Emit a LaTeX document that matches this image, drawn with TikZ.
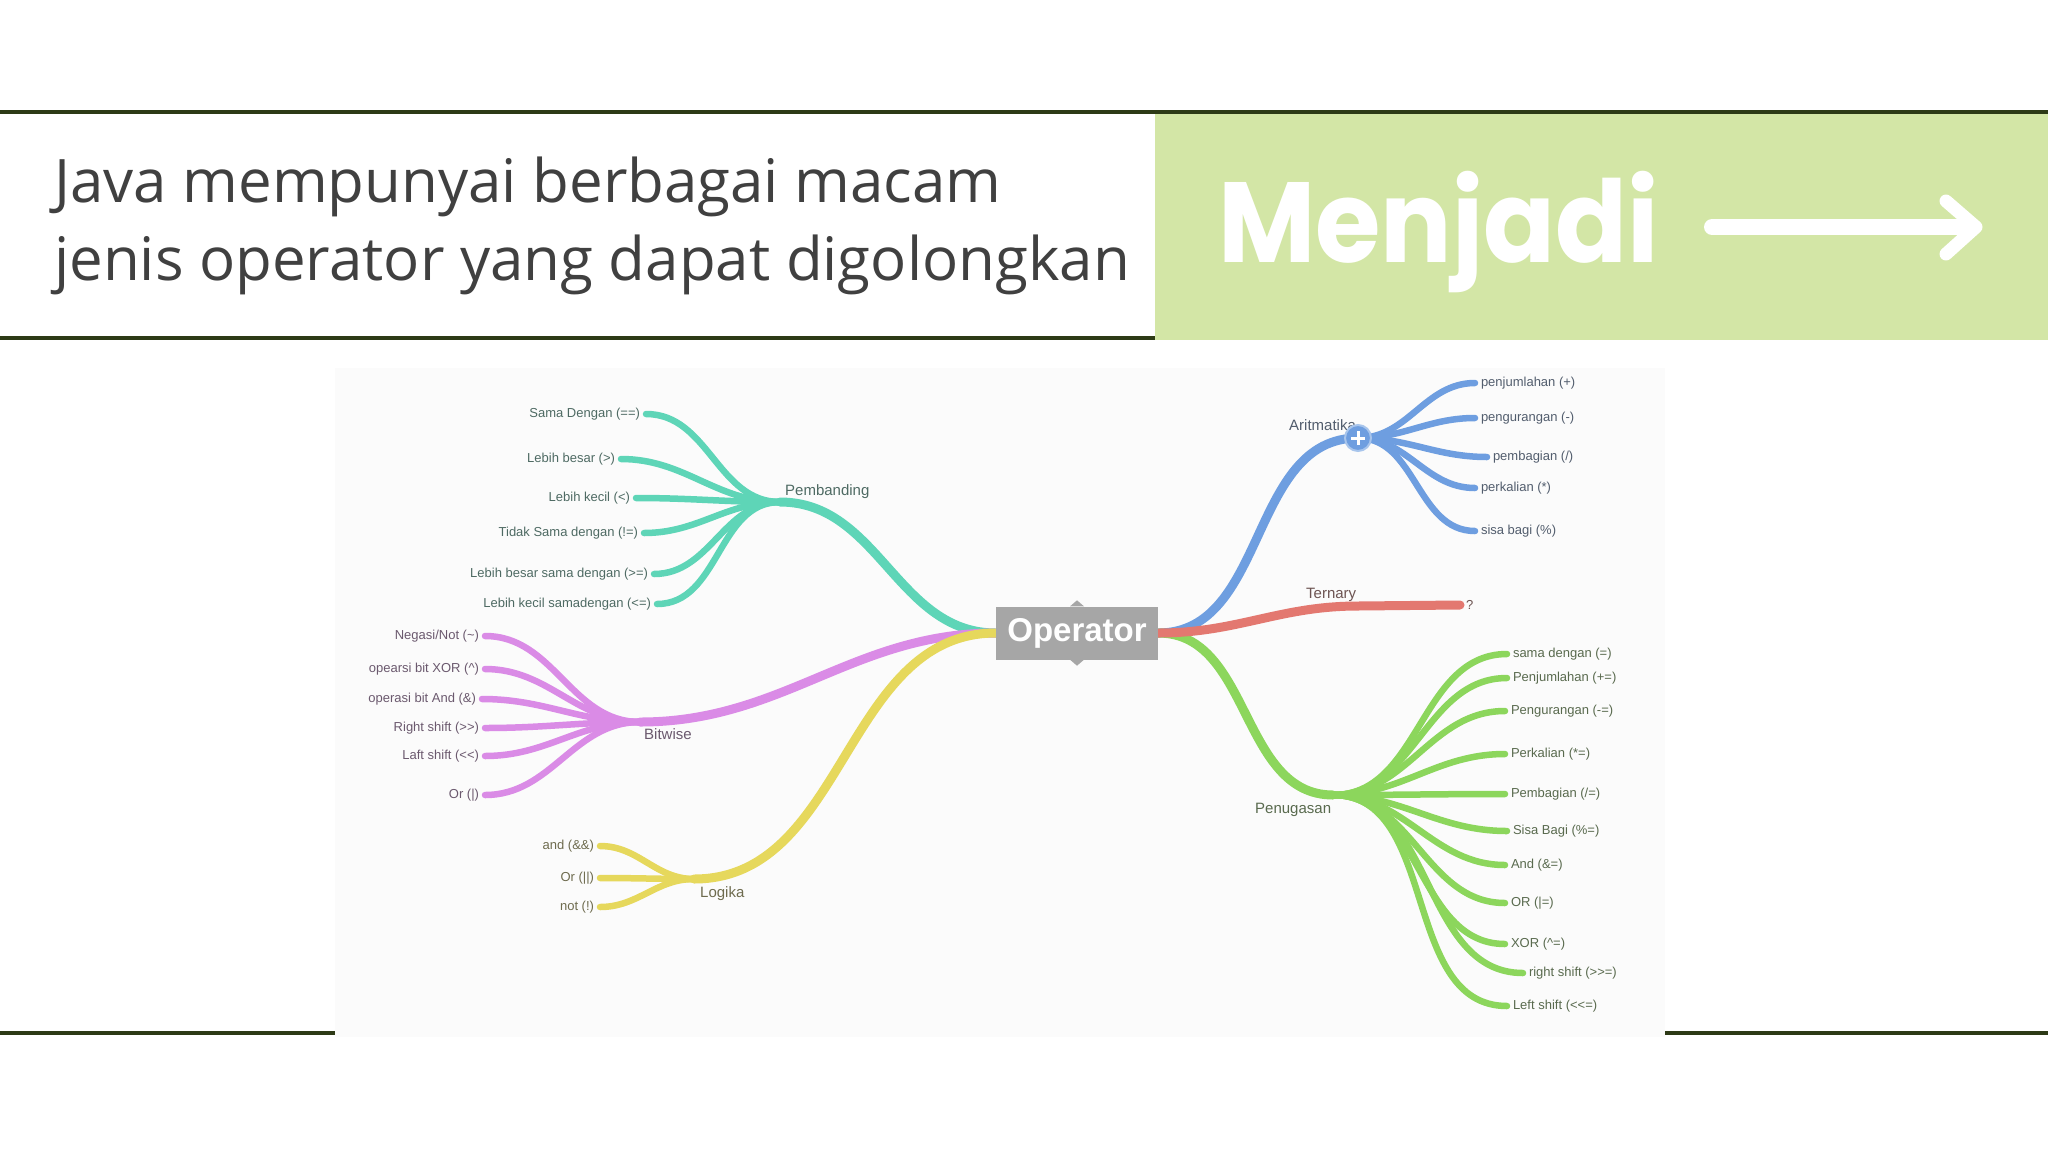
\documentclass[tikz,border=0pt]{standalone}
\usepackage{fontspec}
\setmainfont{Liberation Sans}
\newfontfamily\opensans{Open Sans}
\newfontfamily\poppins{Poppins}[FakeStretch=0.93]
\usetikzlibrary{calc}
\pgfdeclarelayer{bg}\pgfdeclarelayer{lines}\pgfsetlayers{bg,lines,main}
\definecolor{olive}{HTML}{2D3A16}
\definecolor{boxgreen}{HTML}{D3E6A6}
\definecolor{hdtext}{HTML}{404040}
\definecolor{mmbg}{HTML}{FBFBFB}
\definecolor{opgray}{HTML}{A6A6A6}
\definecolor{cP}{HTML}{5ED5B7}
\definecolor{cB}{HTML}{DA8BE6}
\definecolor{cL}{HTML}{E6D85C}
\definecolor{cA}{HTML}{6E9EE0}
\definecolor{cT}{HTML}{E37870}
\definecolor{cG}{HTML}{8CD65C}
\colorlet{cPt}{cP!30!black!78}
\colorlet{cBt}{cB!30!black!78}
\colorlet{cLt}{cL!30!black!78}
\colorlet{cAt}{cA!30!black!78}
\colorlet{cTt}{cT!30!black!78}
\colorlet{cGt}{cG!30!black!78}
\tikzset{
  hline/.style={draw=olive, line width=3.5},
  mainbr/.style={line width=9, line cap=round},
  leafbr/.style={line width=6.5, line cap=round},
  leafL/.style={anchor=east, inner sep=1, outer xsep=5, font=\fontsize{13}{15}\selectfont},
  leafR/.style={anchor=west, inner sep=1, outer xsep=5, font=\fontsize{13}{15}\selectfont},
  brlabel/.style={anchor=base west, inner sep=0, font=\fontsize{15}{17}\selectfont},
}
\newcommand\GT{\char"3E\relax}
\newcommand\LT{\char"3C\relax}
% name, x,y, text, hub, colour
\newcommand\leafleft[5]{%
  \node[leafL,text=#5t] (#1) at (#2) {#3};
  \begin{pgfonlayer}{lines}\draw[leafbr,draw=#5] (#4) to[out=180,in=0] (#1.east);\end{pgfonlayer}}
\newcommand\leafright[5]{%
  \node[leafR,text=#5t] (#1) at (#2) {#3};
  \begin{pgfonlayer}{lines}\draw[leafbr,draw=#5] (#4) to[out=0,in=180] (#1.west);\end{pgfonlayer}}
\begin{document}
\begin{tikzpicture}[x=1pt,y=-1pt]
\path[use as bounding box] (0,0) rectangle (2048,1152);
\begin{pgfonlayer}{bg}
\fill[white] (0,0) rectangle (2048,1152);
% header
\fill[boxgreen] (1155,114) rectangle (2048,340);
\draw[hline] (0,112) -- (2048,112);
\draw[hline] (0,338) -- (1155,338);
% bottom line and mind-map image background
\draw[hline] (0,1033) -- (2048,1033);
\fill[mmbg] (335,368) rectangle (1665,1037);
\end{pgfonlayer}

% header text
\node[anchor=base west, inner sep=0, font=\opensans\fontsize{60}{72}\selectfont, text=hdtext] (java1) at (54,202) {Java mempunyai berbagai macam};
\node[anchor=base west, inner sep=0, font=\opensans\fontsize{60}{72}\selectfont, text=hdtext] (java2) at (54,280) {jenis operator yang dapat digolongkan};
\node[anchor=base west, inner sep=0, font=\poppins\bfseries\fontsize{114}{120}\selectfont, text=white] (menj) at (1218,262) {Menjadi};
\coordinate (ar1) at (1712,227);
\coordinate (ar2) at (1970,227);
\coordinate (ah1) at (1946,201);
\coordinate (ah2) at (1976,227);
\coordinate (ah3) at (1946,254);
\draw[white, line width=16, line cap=round] (ar1) -- (ar2);
\draw[white, line width=13, line cap=round, line join=round] (ah1) -- (ah2) -- (ah3);

% root
\node[fill=opgray, text=white, font=\bfseries\fontsize{33}{33}\selectfont, minimum width=162, minimum height=53, inner sep=0] (op) at (1077,633) {Operator};
\fill[opgray] ([xshift=-7pt]op.north) -- ([yshift=6pt]op.north) -- ([xshift=7pt]op.north) -- cycle;
\fill[opgray] ([xshift=-7pt]op.south) -- ([yshift=-6pt]op.south) -- ([xshift=7pt]op.south) -- cycle;

% hubs
\coordinate (hP) at (780,502);
\coordinate (hB) at (640,722);
\coordinate (hL) at (694,879);
\coordinate (hA) at (1358,438);
\coordinate (hT) at (1358,606);
\coordinate (hG) at (1333,795);

\begin{pgfonlayer}{lines}
\draw[mainbr, draw=cP] (op.west) to[out=180,in=0] (hP);
\draw[mainbr, draw=cB] (op.west) to[out=180,in=0] (hB);
\draw[mainbr, draw=cL] (op.west) to[out=180,in=0] (hL);
\draw[mainbr, draw=cA] (op.east) to[out=0,in=180] (hA);
\draw[mainbr, draw=cG] (op.east) to[out=0,in=180] (hG);
\end{pgfonlayer}

% branch labels
\node[brlabel, text=cPt] (lP) at (785,495) {Pembanding};
\node[brlabel, text=cBt] (lB) at (644,739) {Bitwise};
\node[brlabel, text=cLt] (lL) at (700,897) {Logika};
\node[brlabel, text=cAt] (lA) at (1289,430) {Aritmatika};
\node[brlabel, text=cTt] (lT) at (1306,598) {Ternary};
\node[brlabel, text=cGt] (lG) at (1255,813) {Penugasan};

% Pembanding
\leafleft{p1}{646,414}{Sama Dengan (==)}{hP}{cP}
\leafleft{p2}{621,459}{Lebih besar (\GT)}{hP}{cP}
\leafleft{p3}{636,498}{Lebih kecil (\LT)}{hP}{cP}
\leafleft{p4}{644,533}{Tidak Sama dengan (!=)}{hP}{cP}
\leafleft{p5}{654,574}{Lebih besar sama dengan (\GT=)}{hP}{cP}
\leafleft{p6}{657,604}{Lebih kecil samadengan (\LT=)}{hP}{cP}
% Bitwise
\leafleft{b1}{485,636}{Negasi/Not (\textasciitilde)}{hB}{cB}
\leafleft{b2}{485,669}{opearsi bit XOR (\textasciicircum)}{hB}{cB}
\leafleft{b3}{482,699}{operasi bit And (\&)}{hB}{cB}
\leafleft{b4}{485,728}{Right shift (\GT\GT)}{hB}{cB}
\leafleft{b5}{485,756}{Laft shift (\LT\LT)}{hB}{cB}
\leafleft{b6}{485,795}{Or (\textbar)}{hB}{cB}
% Logika
\leafleft{l1}{600,846}{and (\&\&)}{hL}{cL}
\leafleft{l2}{600,878}{Or (\textbar\textbar)}{hL}{cL}
\leafleft{l3}{600,907}{not (!)}{hL}{cL}
% Aritmatika
\leafright{a1}{1475,383}{penjumlahan (+)}{hA}{cA}
\leafright{a2}{1475,418}{pengurangan (-)}{hA}{cA}
\leafright{a3}{1487,457}{pembagian (/)}{hA}{cA}
\leafright{a4}{1475,488}{perkalian (*)}{hA}{cA}
\leafright{a5}{1475,531}{sisa bagi (\%)}{hA}{cA}
% Ternary
\node[leafR, text=cTt] (tq) at (1460,605) {?};
\begin{pgfonlayer}{lines}
\draw[mainbr, draw=cT] (op.east) to[out=0,in=180] (hT) -- (tq.west);
\end{pgfonlayer}
% Penugasan
\leafright{g1}{1507,654}{sama dengan (=)}{hG}{cG}
\leafright{g2}{1507,678}{Penjumlahan (+=)}{hG}{cG}
\leafright{g3}{1505,711}{Pengurangan (-=)}{hG}{cG}
\leafright{g4}{1505,754}{Perkalian (*=)}{hG}{cG}
\leafright{g5}{1505,794}{Pembagian (/=)}{hG}{cG}
\leafright{g6}{1507,831}{Sisa Bagi (\%=)}{hG}{cG}
\leafright{g7}{1505,865}{And (\&=)}{hG}{cG}
\leafright{g8}{1505,903}{OR (\textbar=)}{hG}{cG}
\leafright{g9}{1505,944}{XOR (\textasciicircum=)}{hG}{cG}
\leafright{g10}{1523,973}{right shift (\GT\GT=)}{hG}{cG}
\leafright{g11}{1507,1006}{Left shift (\LT\LT=)}{hG}{cG}

% plus circle on Aritmatika hub
\node[circle, fill=cA, draw=cA!60!white, line width=2, minimum size=26, inner sep=0] (plus) at (hA) {};
\draw[white, line width=3] ([xshift=-7pt]plus.center) -- ([xshift=7pt]plus.center)
  ([yshift=-7pt]plus.center) -- ([yshift=7pt]plus.center);
\end{tikzpicture}
\end{document}
